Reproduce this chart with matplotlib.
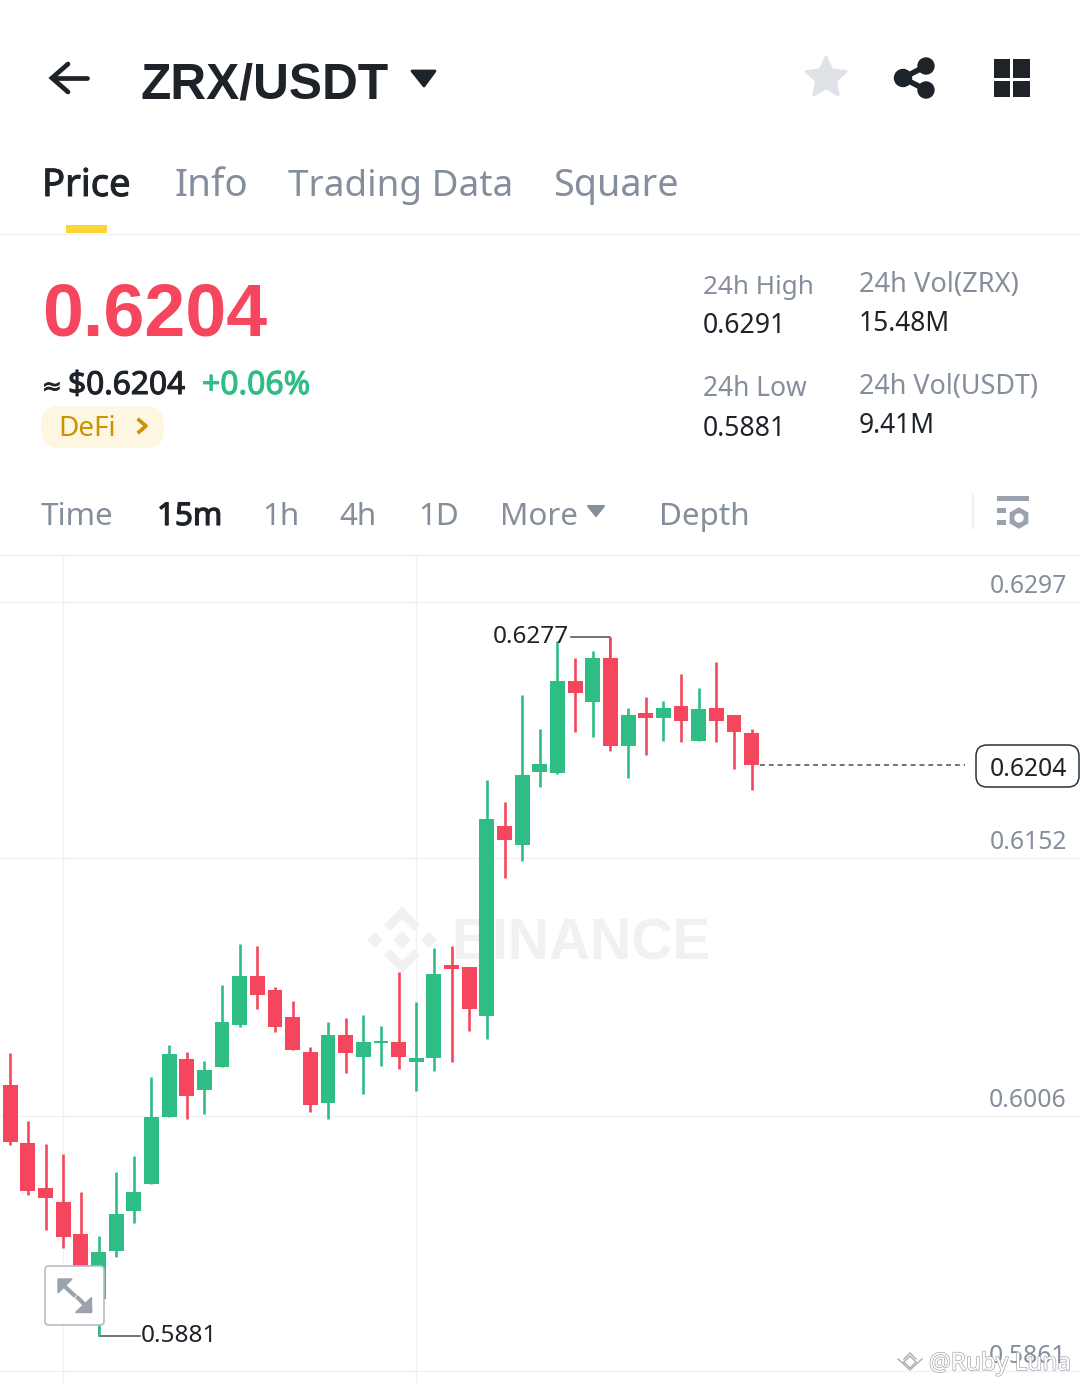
import numpy as np
import matplotlib
matplotlib.use('Agg')
import matplotlib.pyplot as plt
from matplotlib.patches import FancyBboxPatch, Polygon, Circle, Rectangle
import matplotlib.patheffects as pe

plt.rcParams['font.family'] = ['Noto Sans', 'DejaVu Sans']

# candle data, first one is mostly off screen
opens = [0.60301, 0.60233, 0.59905, 0.59650, 0.59570, 0.59389, 0.59021, 0.59293, 0.59519, 0.59672, 0.60052,
         0.60381, 0.60205, 0.60335, 0.60573, 0.60851, 0.60772, 0.60619, 0.60420, 0.60131, 0.60517, 0.60392,
         0.60471, 0.60477, 0.60364, 0.60386, 0.60913, 0.60902, 0.60624, 0.61701, 0.61593, 0.62007, 0.62001,
         0.62522, 0.62403, 0.62653, 0.62154, 0.62341, 0.62313, 0.62381, 0.62182, 0.62369, 0.62330, 0.62228]
highs = [0.60301, 0.60415, 0.60029, 0.59899, 0.59842, 0.59627, 0.59378, 0.59740, 0.59831, 0.60279, 0.60460,
         0.60420, 0.60369, 0.60800, 0.61032, 0.61021, 0.60789, 0.60709, 0.60449, 0.60590, 0.60613, 0.60630,
         0.60568, 0.60874, 0.60704, 0.61010, 0.61021, 0.60902, 0.61961, 0.61837, 0.62443, 0.62250, 0.62749,
         0.62653, 0.62692, 0.62770, 0.62369, 0.62432, 0.62409, 0.62562, 0.62483, 0.62630, 0.62330, 0.62250]
lows = [0.60233, 0.59893, 0.59610, 0.59412, 0.59310, 0.59072, 0.58810, 0.59259, 0.59451, 0.59672, 0.60052,
        0.60041, 0.60069, 0.60335, 0.60562, 0.60664, 0.60534, 0.60432, 0.60080, 0.60041, 0.60301, 0.60182,
        0.60341, 0.60324, 0.60199, 0.60313, 0.60364, 0.60539, 0.60494, 0.61406, 0.61503, 0.61922, 0.61995,
        0.62233, 0.62205, 0.62126, 0.61973, 0.62103, 0.62182, 0.62177, 0.62182, 0.62177, 0.62024, 0.61905]
closes = [0.60233, 0.59910, 0.59633, 0.59593, 0.59372, 0.59157, 0.59287, 0.59502, 0.59627, 0.60052, 0.60409,
          0.60171, 0.60318, 0.60590, 0.60851, 0.60743, 0.60562, 0.60432, 0.60120, 0.60517, 0.60415, 0.60477,
          0.60483, 0.60392, 0.60386, 0.60862, 0.60891, 0.60664, 0.61740, 0.61621, 0.61990, 0.62052, 0.62522,
          0.62454, 0.62653, 0.62154, 0.62330, 0.62313, 0.62369, 0.62296, 0.62364, 0.62296, 0.62233, 0.62046]
candle_index = np.arange(-1, 43)

price_ticks = [0.6297, 0.6152, 0.6006, 0.5861]
price_labels = ['0.6297', '0.6152', '0.6006', '0.5861']
time_grid = [3, 23]

tabs = ['Price', 'Info', 'Trading Data', 'Square']
periods = ['Time', '15m', '1h', '4h', '1D', 'More', 'Depth']

GREEN = '#2ebd85'
RED = '#f6465d'
DARK = '#1e2329'
GREY = '#848e9c'
LINE = '#eef0f2'
WATER = '#f0f1f3'

fig = plt.figure(figsize=(10.8, 13.84), dpi=100, facecolor='white')
W, H = 1080, 1384


def px_axes(top, bottom):
    return [0, 1 - bottom / H, 1, (bottom - top) / H]


def fake_bold(color, width):
    return [pe.withStroke(linewidth=width, foreground=color)]


# price chart
ax = fig.add_axes(px_axes(555, 1384))
ax.set_xlim(-0.58, 60.6)
ax.set_ylim(0.58539, 0.63236)
for s in ax.spines.values():
    s.set_visible(False)
ax.set_yticks(price_ticks)
ax.set_yticklabels([])
ax.set_xticks(time_grid)
ax.set_xticklabels([])
ax.tick_params(length=0)
ax.grid(True, color=LINE, lw=1.0)
ax.set_axisbelow(True)
for p, s in zip(price_ticks, price_labels):
    ax.annotate(s, xy=(1, p), xycoords=('axes fraction', 'data'), xytext=(-9.6, 2), textcoords='offset points',
                ha='right', va='bottom', fontsize=17.8, color=GREY)

colors = [GREEN if c >= o else RED for o, c in zip(opens, closes)]
ax.vlines(candle_index, lows, highs, colors=colors, lw=1.9, zorder=3)
ax.bar(candle_index, np.array(closes) - np.array(opens), bottom=opens, width=0.84, color=colors, zorder=4)

# high / low / last price markers
ax.plot([31.75, 34, 34], [max(highs), max(highs), 0.6265], color='#474d57', lw=1.1, zorder=2.5)
ax.text(31.65, max(highs) + 0.00003, '0.6277', ha='right', va='center', fontsize=17.5, color=DARK, zorder=5)
ax.plot([5, 5, 7.35], [0.5895, min(lows), min(lows)], color='#474d57', lw=1.1, zorder=2.5)
ax.text(7.4, min(lows), '0.5881', ha='left', va='center', fontsize=17.5, color=DARK, zorder=5)
ax.hlines(closes[-1], 42.45, 54.1, color='#474d57', lw=1.1, linestyles=(0, (3.2, 2.6)), zorder=2.5)

# everything else is placed in screen pixels
ui = fig.add_axes([0, 0, 1, 1], zorder=10)
ui.set_xlim(0, W)
ui.set_ylim(H, 0)
ui.axis('off')


def label(x, y, s, size, color=DARK, ha='left', **kw):
    return ui.text(x, y, s, fontsize=size, color=color, ha=ha, va='baseline', **kw)


# watermark under the candles
ax.text(451, 960, 'BINANCE', transform=ui.transData, fontsize=41, family='Liberation Sans', fontweight='bold',
        color=WATER, ha='left', va='baseline', zorder=1)
for cx, cy, r in [(375, 940, 7), (429, 940, 7), (402, 940, 8)]:
    ax.add_patch(Polygon([(cx - r, cy), (cx, cy - r), (cx + r, cy), (cx, cy + r)], transform=ui.transData,
                         color=WATER, zorder=1))
for cy, d in [(913, 15), (967, -15)]:
    ax.plot([387, 402, 417], [cy + d, cy, cy + d], transform=ui.transData, color=WATER, lw=6.5,
            solid_joinstyle='miter', solid_capstyle='butt', zorder=1)

# header
ui.plot([87, 54], [78, 78], color=DARK, lw=3.4, solid_capstyle='round')
ui.plot([68, 52, 68], [64, 78, 92], color=DARK, lw=3.4, solid_capstyle='round', solid_joinstyle='miter')
label(141, 98, 'ZRX/USDT', 35.7, family='Liberation Sans', fontweight='bold')
ui.add_patch(Polygon([(412, 71), (435, 71), (424, 86)], color=DARK, joinstyle='round', lw=2))

star_a = np.deg2rad(-90 + 36 * np.arange(10))
star_r = np.where(np.arange(10) % 2 == 0, 21, 10)
ui.add_patch(Polygon(np.c_[826 + star_r * np.cos(star_a), 78 + star_r * np.sin(star_a)], color='#dfe2e6',
                     joinstyle='round', lw=2))
ui.plot([926, 903, 926], [66, 78, 90], color=DARK, lw=4)
for cx, cy, r in [(926, 66, 8), (903, 78, 8.5), (926, 90, 8)]:
    ui.add_patch(Circle((cx, cy), r, color=DARK))
for x0, y0, x1, y1 in [(994, 59, 1010, 78), (1013, 59, 1030, 78), (994, 81, 1010, 97), (1013, 81, 1030, 97)]:
    ui.add_patch(Rectangle((x0, y0), x1 - x0, y1 - y0, fc=DARK, lw=0))

# tabs
for x, s, c, size in zip([42, 174, 288, 553], tabs, [DARK, GREY, GREY, GREY], [27.5, 27.8, 26.5, 27.2]):
    t = label(x, 196, s, size, color=c)
    if c == DARK:
        t.set_path_effects(fake_bold(DARK, 0.7))
ui.add_patch(Rectangle((66, 225), 41, 8, fc='#fcd535', lw=0))
ui.plot([0, W], [233.5, 233.5], color=LINE, lw=1)

# price block
label(42, 335, '0.6204', 53, color=RED, family='Liberation Sans', fontweight='bold')
label(42, 394, '≈', 17, path_effects=fake_bold(DARK, 0.6))
label(68, 394, '$0.6204', 22.8, path_effects=fake_bold(DARK, 0.8))
label(202, 394, '+0.06%', 23, color=GREEN, path_effects=fake_bold(GREEN, 0.8))
ui.add_patch(FancyBboxPatch((49, 414), 107, 26, boxstyle='round,pad=0,rounding_size=8', fc='#fdf6e0',
                            ec='#fdf6e0', lw=11))
label(58, 436, 'DeFi', 20, color='#c99400')
ui.plot([139, 146, 139], [420, 426, 432], color='#c99400', lw=2.6)

label(703, 294, '24h High', 18.8, color=GREY)
label(703, 333, '0.6291', 19.2)
label(859, 292, '24h Vol(ZRX)', 19.6, color=GREY)
label(859, 331, '15.48M', 19)
label(703, 396, '24h Low', 19, color=GREY)
label(703, 436, '0.5881', 19.2)
label(859, 394, '24h Vol(USDT)', 19.4, color=GREY)
label(859, 433, '9.41M', 19)

# period selector
for x, s in zip([41, 157, 262, 339, 418, 500, 659], periods):
    t = label(x, 525, s, 22.6, color=DARK if s == '15m' else GREY)
    if s == '15m':
        t.set_path_effects(fake_bold(DARK, 0.9))
ui.add_patch(Polygon([(588, 506), (604, 506), (596, 516)], color=GREY, joinstyle='round', lw=1.5))
ui.plot([972.5, 972.5], [495, 528], color=LINE, lw=1.5)
ui.add_patch(Rectangle((997, 496), 32, 5, fc='#9aa2ae', lw=0))
ui.add_patch(Rectangle((997, 508), 9, 5, fc='#9aa2ae', lw=0))
ui.add_patch(Rectangle((997, 520), 9, 5, fc='#9aa2ae', lw=0))
hex_a = np.deg2rad(90 + 60 * np.arange(6))
ui.add_patch(Polygon(np.c_[1019 + 10 * np.cos(hex_a), 518 + 10 * np.sin(hex_a)], color='#9aa2ae'))
ui.add_patch(Circle((1019, 518), 4, color='white'))
ui.plot([0, W], [555, 555], color=LINE, lw=1)

# last price box
ui.add_patch(FancyBboxPatch((976, 745), 103, 42, boxstyle='round,pad=0,rounding_size=11', fc='white',
                            ec='#2b3139', lw=1.1))
label(1028.5, 775.5, '0.6204', 17.8, ha='center')

# expand button
ui.add_patch(FancyBboxPatch((45, 1266), 59, 59, boxstyle='round,pad=0,rounding_size=4', fc='white',
                            ec='#b7bdc6', lw=1.2))
ui.plot([61, 74], [1283, 1295], color='#9aa2ae', lw=3)
ui.plot([78, 90], [1298, 1310], color='#9aa2ae', lw=3)
ui.add_patch(Polygon([(58, 1279), (72, 1279), (58, 1293)], color='#9aa2ae'))
ui.add_patch(Polygon([(91, 1297), (91, 1312), (75, 1312)], color='#9aa2ae'))

# repost watermark
label(929, 1370, '@Ruby Luna', 17.5, color='white', path_effects=fake_bold('#a9aeb5', 1.1))
ui.plot([898, 910, 922], [1359, 1370, 1359], color='#a9aeb5', lw=1)
ui.plot([904, 910, 916, 910, 904], [1362, 1368, 1362, 1356, 1362], color='#a9aeb5', lw=1)
ui.plot([904, 910, 916], [1359, 1353, 1359], color='#a9aeb5', lw=1)

fig.savefig('out.png', dpi=100, facecolor='white')
